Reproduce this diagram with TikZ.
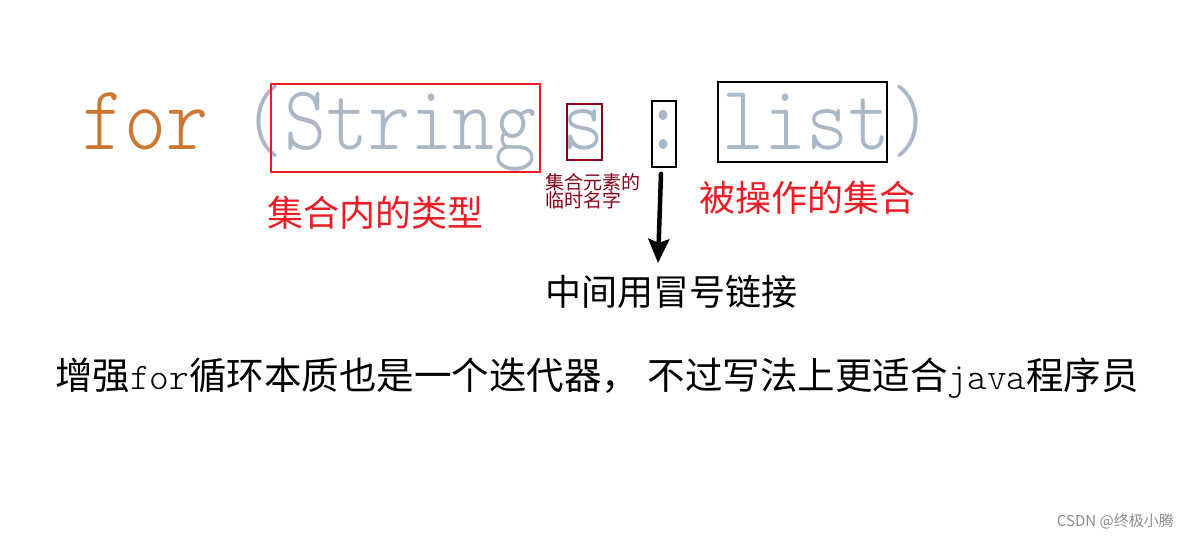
\documentclass[tikz,border=0pt]{standalone}
\usepackage{fontspec}
\newfontfamily\cjk{Noto Sans CJK SC}
\newfontfamily\codefont{Latin Modern Mono Light}
\usetikzlibrary{arrows.meta}
\definecolor{kwfarbe}{RGB}{204,120,50}
\definecolor{codefarbe}{RGB}{169,183,198}
\definecolor{rotfarbe}{RGB}{237,28,36}
\definecolor{dunkelrot}{RGB}{136,0,21}
\newcommand{\code}[1]{\scalebox{1}[1.15]{\fontsize{80}{84}\selectfont\codefont #1}}

\begin{document}
\begin{tikzpicture}[x=1pt,y=-1pt,
  codetext/.style={anchor=base west, inner sep=0pt, text=codefarbe},
  kasten/.style={draw, line width=1.6pt, inner sep=0pt},
  hinweis/.style={font=\cjk\fontsize{36}{40}\selectfont, inner sep=0pt}]
\useasboundingbox[fill=white] (0,0) rectangle (1189,540);

% Codezeile, ein Zeichen = 40
\node[codetext, text=kwfarbe] (kwfor) at (82,150) {\code{for}};
\node[codetext] (typename) at (242,150) {\code{(String}};
\node[codetext] (varname) at (562,150) {\code{s}};
\node[codetext] (colon) at (642,150) {\code{:}};
\node[codetext] (listname) at (722,150) {\code{list)}};

% Kaesten
\node[kasten, draw=rotfarbe, minimum width=269, minimum height=88] (typebox) at (405.5,128) {};
\node[kasten, draw=dunkelrot, minimum width=35, minimum height=56] (varbox) at (584.5,132) {};
\node[kasten, minimum width=24, minimum height=66] (colonbox) at (664,134) {};
\node[kasten, minimum width=169, minimum height=80] (listbox) at (802.5,122) {};

% Beschriftungen
\node[hinweis, text=rotfarbe] (typelabel) at (375,213) {集合内的类型};
\node[hinweis, text=dunkelrot, font=\cjk\fontsize{19}{18}\selectfont, align=left, anchor=west]
  (varlabel) at (545,191) {集合元素的\\临时名字};
\node[hinweis, text=rotfarbe] (listlabel) at (807.5,198) {被操作的集合};

% Pfeil zum Doppelpunkt
\coordinate (arrowtip) at (658,263);
\draw[line width=4.5pt, line cap=round, -{Stealth[length=24pt,width=21pt,inset=4pt]}]
  ([xshift=-3pt,yshift=-6pt]colonbox.south) -- (arrowtip);
\node[hinweis] (linklabel) at (671.5,292) {中间用冒号链接};

% Erklaerung
\node[hinweis, font=\cjk\fontsize{37.5}{40}\selectfont, anchor=west] (summary) at (55,378)
  {增强{\codefont for}循环本质也是一个迭代器，\ 不过写法上更适合{\codefont java}程序员};

% Wasserzeichen
\node[hinweis, font=\cjk\fontsize{15}{18}\selectfont, text=black!45, anchor=east] (watermark) at (1174,521)
  {CSDN @终极小腾};
\end{tikzpicture}
\end{document}
